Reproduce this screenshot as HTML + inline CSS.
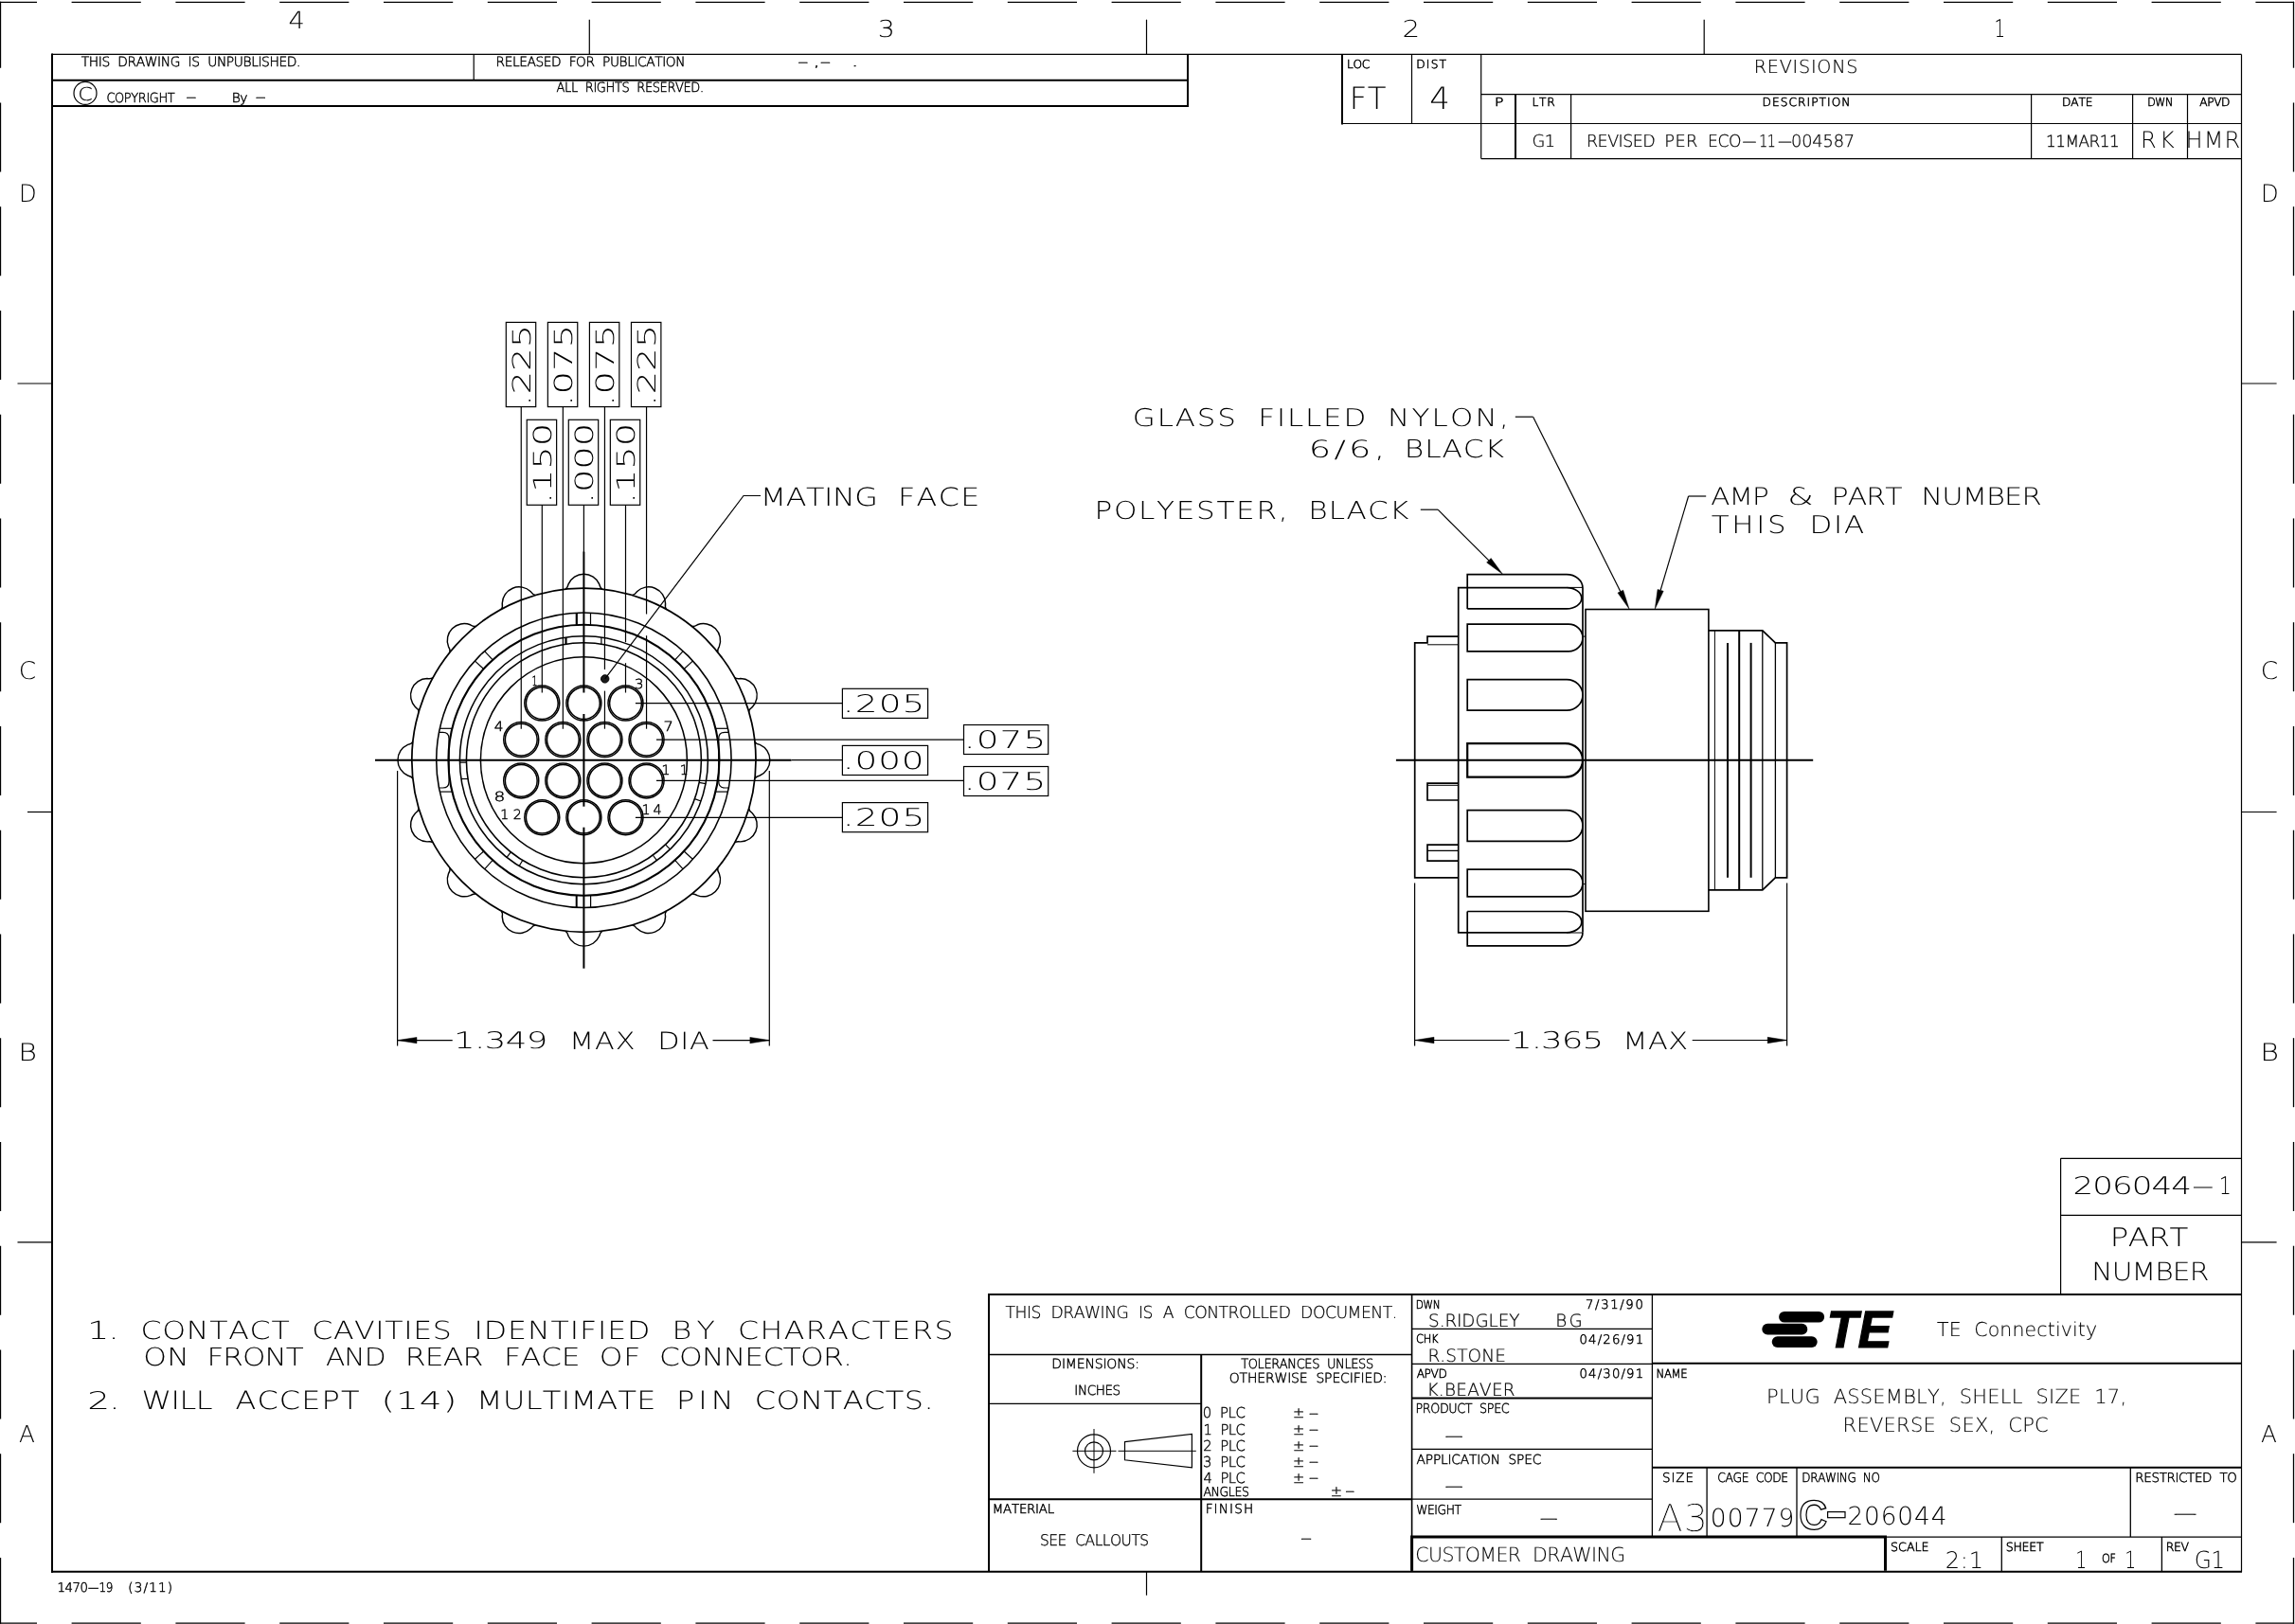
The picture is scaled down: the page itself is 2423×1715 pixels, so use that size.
<!DOCTYPE html>
<html lang="en"><head><meta charset="utf-8"><title>206044 Plug Assembly Customer Drawing</title>
<style>
html,body{margin:0;padding:0;background:#fff}
body{width:2423px;height:1715px;overflow:hidden}
svg{display:block;will-change:transform;font-family:"DejaVu Sans Light","DejaVu Sans","Liberation Sans",sans-serif;font-weight:200;font-kerning:none;text-rendering:geometricPrecision}
svg text{white-space:pre}
</style></head><body>
<svg width="2423" height="1715" viewBox="0 0 2423 1715" stroke="#000" fill="#000">
<rect x="0" y="0" width="2423" height="1715" fill="#fff" stroke="none"/>
<g stroke="#000" fill="none" stroke-linecap="butt">
<g stroke-width="1.3">
<line x1="0" y1="2.4" x2="39" y2="2.4"/>
<line x1="75.6" y1="2.4" x2="148.8" y2="2.4"/>
<line x1="185.4" y1="2.4" x2="258.6" y2="2.4"/>
<line x1="295.2" y1="2.4" x2="368.4" y2="2.4"/>
<line x1="405" y1="2.4" x2="478.2" y2="2.4"/>
<line x1="514.8" y1="2.4" x2="588" y2="2.4"/>
<line x1="624.6" y1="2.4" x2="697.8" y2="2.4"/>
<line x1="734.4" y1="2.4" x2="807.6" y2="2.4"/>
<line x1="844.2" y1="2.4" x2="917.4" y2="2.4"/>
<line x1="954" y1="2.4" x2="1027.2" y2="2.4"/>
<line x1="1063.8" y1="2.4" x2="1137" y2="2.4"/>
<line x1="1173.6" y1="2.4" x2="1246.8" y2="2.4"/>
<line x1="1283.4" y1="2.4" x2="1356.6" y2="2.4"/>
<line x1="1393.2" y1="2.4" x2="1466.4" y2="2.4"/>
<line x1="1503" y1="2.4" x2="1576.2" y2="2.4"/>
<line x1="1612.8" y1="2.4" x2="1686" y2="2.4"/>
<line x1="1722.6" y1="2.4" x2="1795.8" y2="2.4"/>
<line x1="1832.4" y1="2.4" x2="1905.6" y2="2.4"/>
<line x1="1942.2" y1="2.4" x2="2015.4" y2="2.4"/>
<line x1="2052" y1="2.4" x2="2125.2" y2="2.4"/>
<line x1="2161.8" y1="2.4" x2="2235" y2="2.4"/>
<line x1="2271.6" y1="2.4" x2="2344.8" y2="2.4"/>
<line x1="2381.4" y1="2.4" x2="2422.1" y2="2.4"/>
<line x1="0" y1="1714.2" x2="39" y2="1714.2"/>
<line x1="75.6" y1="1714.2" x2="148.8" y2="1714.2"/>
<line x1="185.4" y1="1714.2" x2="258.6" y2="1714.2"/>
<line x1="295.2" y1="1714.2" x2="368.4" y2="1714.2"/>
<line x1="405" y1="1714.2" x2="478.2" y2="1714.2"/>
<line x1="514.8" y1="1714.2" x2="588" y2="1714.2"/>
<line x1="624.6" y1="1714.2" x2="697.8" y2="1714.2"/>
<line x1="734.4" y1="1714.2" x2="807.6" y2="1714.2"/>
<line x1="844.2" y1="1714.2" x2="917.4" y2="1714.2"/>
<line x1="954" y1="1714.2" x2="1027.2" y2="1714.2"/>
<line x1="1063.8" y1="1714.2" x2="1137" y2="1714.2"/>
<line x1="1173.6" y1="1714.2" x2="1246.8" y2="1714.2"/>
<line x1="1283.4" y1="1714.2" x2="1356.6" y2="1714.2"/>
<line x1="1393.2" y1="1714.2" x2="1466.4" y2="1714.2"/>
<line x1="1503" y1="1714.2" x2="1576.2" y2="1714.2"/>
<line x1="1612.8" y1="1714.2" x2="1686" y2="1714.2"/>
<line x1="1722.6" y1="1714.2" x2="1795.8" y2="1714.2"/>
<line x1="1832.4" y1="1714.2" x2="1905.6" y2="1714.2"/>
<line x1="1942.2" y1="1714.2" x2="2015.4" y2="1714.2"/>
<line x1="2052" y1="1714.2" x2="2125.2" y2="1714.2"/>
<line x1="2161.8" y1="1714.2" x2="2235" y2="1714.2"/>
<line x1="2271.6" y1="1714.2" x2="2344.8" y2="1714.2"/>
<line x1="2381.4" y1="1714.2" x2="2422.1" y2="1714.2"/>
<line x1="0.5" y1="1.8" x2="0.5" y2="71.7"/>
<line x1="0.5" y1="108.45" x2="0.5" y2="181.45"/>
<line x1="0.5" y1="218.2" x2="0.5" y2="291.2"/>
<line x1="0.5" y1="327.95" x2="0.5" y2="400.95"/>
<line x1="0.5" y1="437.7" x2="0.5" y2="510.7"/>
<line x1="0.5" y1="547.45" x2="0.5" y2="620.45"/>
<line x1="0.5" y1="657.2" x2="0.5" y2="730.2"/>
<line x1="0.5" y1="766.95" x2="0.5" y2="839.95"/>
<line x1="0.5" y1="876.7" x2="0.5" y2="949.7"/>
<line x1="0.5" y1="986.45" x2="0.5" y2="1059.45"/>
<line x1="0.5" y1="1096.2" x2="0.5" y2="1169.2"/>
<line x1="0.5" y1="1205.95" x2="0.5" y2="1278.95"/>
<line x1="0.5" y1="1315.7" x2="0.5" y2="1388.7"/>
<line x1="0.5" y1="1425.45" x2="0.5" y2="1498.45"/>
<line x1="0.5" y1="1535.2" x2="0.5" y2="1608.2"/>
<line x1="0.5" y1="1644.95" x2="0.5" y2="1714.8"/>
<line x1="2421.5" y1="1.8" x2="2421.5" y2="71.7"/>
<line x1="2421.5" y1="108.45" x2="2421.5" y2="181.45"/>
<line x1="2421.5" y1="218.2" x2="2421.5" y2="291.2"/>
<line x1="2421.5" y1="327.95" x2="2421.5" y2="400.95"/>
<line x1="2421.5" y1="437.7" x2="2421.5" y2="510.7"/>
<line x1="2421.5" y1="547.45" x2="2421.5" y2="620.45"/>
<line x1="2421.5" y1="657.2" x2="2421.5" y2="730.2"/>
<line x1="2421.5" y1="766.95" x2="2421.5" y2="839.95"/>
<line x1="2421.5" y1="876.7" x2="2421.5" y2="949.7"/>
<line x1="2421.5" y1="986.45" x2="2421.5" y2="1059.45"/>
<line x1="2421.5" y1="1096.2" x2="2421.5" y2="1169.2"/>
<line x1="2421.5" y1="1205.95" x2="2421.5" y2="1278.95"/>
<line x1="2421.5" y1="1315.7" x2="2421.5" y2="1388.7"/>
<line x1="2421.5" y1="1425.45" x2="2421.5" y2="1498.45"/>
<line x1="2421.5" y1="1535.2" x2="2421.5" y2="1608.2"/>
<line x1="2421.5" y1="1644.95" x2="2421.5" y2="1714.8"/>
</g>
<line x1="55" y1="56.5" x2="55" y2="1660.8" stroke-width="2"/>
<line x1="54" y1="1659.8" x2="2367" y2="1659.8" stroke-width="2"/>
<line x1="55" y1="57.4" x2="2366.5" y2="57.4" stroke-width="1.2"/>
<line x1="2366.5" y1="57.4" x2="2366.5" y2="1660" stroke-width="1.2"/>
<line x1="622.3" y1="20.7" x2="622.3" y2="57.4" stroke-width="1.2"/>
<line x1="1210.5" y1="20.7" x2="1210.5" y2="57.4" stroke-width="1.2"/>
<line x1="1799.2" y1="20.7" x2="1799.2" y2="57.4" stroke-width="1.2"/>
<line x1="1210.5" y1="1660" x2="1210.5" y2="1684.7" stroke-width="1.2"/>
<line x1="18.5" y1="405" x2="55" y2="405" stroke-width="1.2"/>
<line x1="29" y1="857.5" x2="55" y2="857.5" stroke-width="1.2"/>
<line x1="18.5" y1="1311.8" x2="55" y2="1311.8" stroke-width="1.2"/>
<line x1="2366.5" y1="405" x2="2403.6" y2="405" stroke-width="1.2"/>
<line x1="2366.5" y1="857.5" x2="2403.6" y2="857.5" stroke-width="1.2"/>
<line x1="2366.5" y1="1311.8" x2="2403.6" y2="1311.8" stroke-width="1.2"/>
<line x1="55" y1="84.7" x2="1254" y2="84.7" stroke-width="2"/>
<line x1="55" y1="111.9" x2="1255" y2="111.9" stroke-width="2"/>
<line x1="1254" y1="57.4" x2="1254" y2="112.9" stroke-width="2"/>
<line x1="500.2" y1="57.4" x2="500.2" y2="84.7" stroke-width="1.2"/>
<circle cx="90" cy="98.4" r="12" stroke-width="1.2" fill="none"/>
<line x1="1417" y1="57.4" x2="1417" y2="131.5" stroke-width="2"/>
<line x1="1416" y1="130.5" x2="1563.7" y2="130.5" stroke-width="1.2"/>
<line x1="1490.5" y1="57.4" x2="1490.5" y2="130.5" stroke-width="1.2"/>
<line x1="1563.7" y1="57.4" x2="1563.7" y2="167.6" stroke-width="1.2"/>
<line x1="1563.7" y1="99.6" x2="2366.5" y2="99.6" stroke-width="1.2"/>
<line x1="1563.7" y1="130.5" x2="2366.5" y2="130.5" stroke-width="1.2"/>
<line x1="1563.7" y1="167.6" x2="2366.5" y2="167.6" stroke-width="1.2"/>
<line x1="1600" y1="99.6" x2="1600" y2="167.6" stroke-width="2"/>
<line x1="1658.6" y1="99.6" x2="1658.6" y2="167.6" stroke-width="1.2"/>
<line x1="2144.6" y1="99.6" x2="2144.6" y2="167.6" stroke-width="1.2"/>
<line x1="2251.6" y1="99.6" x2="2251.6" y2="167.6" stroke-width="1.2"/>
<line x1="2309.5" y1="99.6" x2="2309.5" y2="167.6" stroke-width="1.2"/>
<path d="M-19.5 1 Q-17.3 0 -16.3 -4.2 A17.8 17.8 0 0 1 16.3 -4.2 Q17.3 0 19.5 1" transform="rotate(0 616.4 802.7) translate(616.4 621.1)" stroke-width="1.45" fill="none"/>
<path d="M-19.5 1 Q-17.3 0 -16.3 -4.2 A17.8 17.8 0 0 1 16.3 -4.2 Q17.3 0 19.5 1" transform="rotate(22.5 616.4 802.7) translate(616.4 621.1)" stroke-width="1.45" fill="none"/>
<path d="M-19.5 1 Q-17.3 0 -16.3 -4.2 A17.8 17.8 0 0 1 16.3 -4.2 Q17.3 0 19.5 1" transform="rotate(45 616.4 802.7) translate(616.4 621.1)" stroke-width="1.45" fill="none"/>
<path d="M-19.5 1 Q-17.3 0 -16.3 -4.2 A17.8 17.8 0 0 1 16.3 -4.2 Q17.3 0 19.5 1" transform="rotate(67.5 616.4 802.7) translate(616.4 621.1)" stroke-width="1.45" fill="none"/>
<path d="M-19.5 1 Q-17.3 0 -16.3 -4.2 A17.8 17.8 0 0 1 16.3 -4.2 Q17.3 0 19.5 1" transform="rotate(90 616.4 802.7) translate(616.4 621.1)" stroke-width="1.45" fill="none"/>
<path d="M-19.5 1 Q-17.3 0 -16.3 -4.2 A17.8 17.8 0 0 1 16.3 -4.2 Q17.3 0 19.5 1" transform="rotate(112.5 616.4 802.7) translate(616.4 621.1)" stroke-width="1.45" fill="none"/>
<path d="M-19.5 1 Q-17.3 0 -16.3 -4.2 A17.8 17.8 0 0 1 16.3 -4.2 Q17.3 0 19.5 1" transform="rotate(135 616.4 802.7) translate(616.4 621.1)" stroke-width="1.45" fill="none"/>
<path d="M-19.5 1 Q-17.3 0 -16.3 -4.2 A17.8 17.8 0 0 1 16.3 -4.2 Q17.3 0 19.5 1" transform="rotate(157.5 616.4 802.7) translate(616.4 621.1)" stroke-width="1.45" fill="none"/>
<path d="M-19.5 1 Q-17.3 0 -16.3 -4.2 A17.8 17.8 0 0 1 16.3 -4.2 Q17.3 0 19.5 1" transform="rotate(180 616.4 802.7) translate(616.4 621.1)" stroke-width="1.45" fill="none"/>
<path d="M-19.5 1 Q-17.3 0 -16.3 -4.2 A17.8 17.8 0 0 1 16.3 -4.2 Q17.3 0 19.5 1" transform="rotate(202.5 616.4 802.7) translate(616.4 621.1)" stroke-width="1.45" fill="none"/>
<path d="M-19.5 1 Q-17.3 0 -16.3 -4.2 A17.8 17.8 0 0 1 16.3 -4.2 Q17.3 0 19.5 1" transform="rotate(225 616.4 802.7) translate(616.4 621.1)" stroke-width="1.45" fill="none"/>
<path d="M-19.5 1 Q-17.3 0 -16.3 -4.2 A17.8 17.8 0 0 1 16.3 -4.2 Q17.3 0 19.5 1" transform="rotate(247.5 616.4 802.7) translate(616.4 621.1)" stroke-width="1.45" fill="none"/>
<path d="M-19.5 1 Q-17.3 0 -16.3 -4.2 A17.8 17.8 0 0 1 16.3 -4.2 Q17.3 0 19.5 1" transform="rotate(270 616.4 802.7) translate(616.4 621.1)" stroke-width="1.45" fill="none"/>
<path d="M-19.5 1 Q-17.3 0 -16.3 -4.2 A17.8 17.8 0 0 1 16.3 -4.2 Q17.3 0 19.5 1" transform="rotate(292.5 616.4 802.7) translate(616.4 621.1)" stroke-width="1.45" fill="none"/>
<path d="M-19.5 1 Q-17.3 0 -16.3 -4.2 A17.8 17.8 0 0 1 16.3 -4.2 Q17.3 0 19.5 1" transform="rotate(315 616.4 802.7) translate(616.4 621.1)" stroke-width="1.45" fill="none"/>
<path d="M-19.5 1 Q-17.3 0 -16.3 -4.2 A17.8 17.8 0 0 1 16.3 -4.2 Q17.3 0 19.5 1" transform="rotate(337.5 616.4 802.7) translate(616.4 621.1)" stroke-width="1.45" fill="none"/>
<circle cx="616.4" cy="802.7" r="181.6" stroke-width="1.75" fill="none"/>
<circle cx="616.4" cy="802.7" r="155.7" stroke-width="1.55" fill="none"/>
<circle cx="616.4" cy="802.7" r="143" stroke-width="2.1" fill="none"/>
<circle cx="616.4" cy="802.7" r="131" stroke-width="1.55" fill="none"/>
<circle cx="616.4" cy="802.7" r="124" stroke-width="1.55" fill="none"/>
<circle cx="616.4" cy="802.7" r="109" stroke-width="1.55" fill="none"/>
<line x1="608.8" y1="659.9" x2="608.8" y2="647.19" stroke-width="2.2"/>
<line x1="623.5" y1="659.88" x2="623.5" y2="647.16" stroke-width="1.2"/>
<line x1="608.7" y1="945.49" x2="608.7" y2="958.21" stroke-width="2"/>
<line x1="623.6" y1="945.52" x2="623.6" y2="958.23" stroke-width="1.2"/>
<line x1="722.17" y1="706.46" x2="731.56" y2="697.91" stroke-width="1.2"/>
<line x1="712.64" y1="696.93" x2="721.19" y2="687.54" stroke-width="1.2"/>
<line x1="520.16" y1="696.93" x2="511.61" y2="687.54" stroke-width="1.2"/>
<line x1="510.63" y1="706.46" x2="501.24" y2="697.91" stroke-width="1.2"/>
<line x1="510.63" y1="898.94" x2="501.24" y2="907.49" stroke-width="1.2"/>
<line x1="520.16" y1="908.47" x2="511.61" y2="917.86" stroke-width="1.2"/>
<line x1="712.64" y1="908.47" x2="721.19" y2="917.86" stroke-width="1.2"/>
<line x1="722.17" y1="898.94" x2="731.56" y2="907.49" stroke-width="1.2"/>
<line x1="477.36" y1="769.3" x2="464.32" y2="769.3" stroke-width="1.2"/>
<line x1="477.36" y1="836.1" x2="464.32" y2="836.1" stroke-width="1.2"/>
<path d="M463.48 773.4 L467.5 773.4 Q474 773.4 474 779.9 L474 825.5 Q474 832 467.5 832 L463.48 832" stroke-width="1.2" fill="none"/>
<line x1="755.44" y1="769.3" x2="768.48" y2="769.3" stroke-width="1.2"/>
<line x1="755.44" y1="836.1" x2="768.48" y2="836.1" stroke-width="1.2"/>
<path d="M769.32 773.4 L765.3 773.4 Q758.8 773.4 758.8 779.9 L758.8 825.5 Q758.8 832 765.3 832 L769.32 832" stroke-width="1.2" fill="none"/>
<line x1="597.5" y1="680.15" x2="597.5" y2="673.07" stroke-width="2.2"/>
<line x1="634.9" y1="680.09" x2="634.9" y2="673.01" stroke-width="1.2"/>
<line x1="492.42" y1="805.1" x2="485.42" y2="805.1" stroke-width="1.3"/>
<line x1="493.99" y1="822.5" x2="486.9" y2="822.5" stroke-width="1.2"/>
<line x1="539.38" y1="899.88" x2="535.03" y2="905.36" stroke-width="1.2"/>
<line x1="551.79" y1="908.54" x2="548.15" y2="914.52" stroke-width="1.2"/>
<line x1="702.54" y1="891.9" x2="707.4" y2="896.93" stroke-width="1.2"/>
<line x1="689.29" y1="903.02" x2="693.4" y2="908.68" stroke-width="1.2"/>
<line x1="738.12" y1="826.36" x2="744.99" y2="827.7" stroke-width="1.2"/>
<line x1="733.43" y1="843.68" x2="740.04" y2="846" stroke-width="1.2"/>
<circle cx="572.3" cy="742.6" r="18.5" stroke-width="1.5" fill="none"/>
<circle cx="572.3" cy="742.6" r="16.9" stroke-width="1.5" fill="none"/>
<circle cx="616.4" cy="742.6" r="18.5" stroke-width="1.5" fill="none"/>
<circle cx="616.4" cy="742.6" r="16.9" stroke-width="1.5" fill="none"/>
<circle cx="660.5" cy="742.6" r="18.5" stroke-width="1.5" fill="none"/>
<circle cx="660.5" cy="742.6" r="16.9" stroke-width="1.5" fill="none"/>
<circle cx="550.25" cy="781.1" r="18.5" stroke-width="1.5" fill="none"/>
<circle cx="550.25" cy="781.1" r="16.9" stroke-width="1.5" fill="none"/>
<circle cx="594.35" cy="781.1" r="18.5" stroke-width="1.5" fill="none"/>
<circle cx="594.35" cy="781.1" r="16.9" stroke-width="1.5" fill="none"/>
<circle cx="638.45" cy="781.1" r="18.5" stroke-width="1.5" fill="none"/>
<circle cx="638.45" cy="781.1" r="16.9" stroke-width="1.5" fill="none"/>
<circle cx="682.55" cy="781.1" r="18.5" stroke-width="1.5" fill="none"/>
<circle cx="682.55" cy="781.1" r="16.9" stroke-width="1.5" fill="none"/>
<circle cx="550.25" cy="824.4" r="18.5" stroke-width="1.5" fill="none"/>
<circle cx="550.25" cy="824.4" r="16.9" stroke-width="1.5" fill="none"/>
<circle cx="594.35" cy="824.4" r="18.5" stroke-width="1.5" fill="none"/>
<circle cx="594.35" cy="824.4" r="16.9" stroke-width="1.5" fill="none"/>
<circle cx="638.45" cy="824.4" r="18.5" stroke-width="1.5" fill="none"/>
<circle cx="638.45" cy="824.4" r="16.9" stroke-width="1.5" fill="none"/>
<circle cx="682.55" cy="824.4" r="18.5" stroke-width="1.5" fill="none"/>
<circle cx="682.55" cy="824.4" r="16.9" stroke-width="1.5" fill="none"/>
<circle cx="572.3" cy="863.2" r="18.5" stroke-width="1.5" fill="none"/>
<circle cx="572.3" cy="863.2" r="16.9" stroke-width="1.5" fill="none"/>
<circle cx="616.4" cy="863.2" r="18.5" stroke-width="1.5" fill="none"/>
<circle cx="616.4" cy="863.2" r="16.9" stroke-width="1.5" fill="none"/>
<circle cx="660.5" cy="863.2" r="18.5" stroke-width="1.5" fill="none"/>
<circle cx="660.5" cy="863.2" r="16.9" stroke-width="1.5" fill="none"/>
<line x1="396" y1="802.7" x2="835.5" y2="802.7" stroke-width="2"/>
<line x1="835.5" y1="802.7" x2="889.3" y2="802.7" stroke-width="1.2"/>
<line x1="616.4" y1="582.6" x2="616.4" y2="731.5" stroke-width="2"/>
<line x1="616.4" y1="754" x2="616.4" y2="851.7" stroke-width="2"/>
<line x1="616.4" y1="873.7" x2="616.4" y2="1022.7" stroke-width="2"/>
<line x1="550.25" y1="429.6" x2="550.25" y2="769.7" stroke-width="1.2"/>
<line x1="572.3" y1="533.3" x2="572.3" y2="731.5" stroke-width="1.2"/>
<line x1="594.35" y1="429.6" x2="594.35" y2="769.7" stroke-width="1.2"/>
<line x1="616.4" y1="533.3" x2="616.4" y2="583" stroke-width="1.2"/>
<line x1="638.45" y1="429.6" x2="638.45" y2="707" stroke-width="1.2"/>
<line x1="638.45" y1="729.6" x2="638.45" y2="769.7" stroke-width="1.2"/>
<line x1="660.5" y1="533.3" x2="660.5" y2="678.2" stroke-width="1.2"/>
<line x1="660.5" y1="700.2" x2="660.5" y2="731.5" stroke-width="1.2"/>
<line x1="682.55" y1="429.6" x2="682.55" y2="648.5" stroke-width="1.2"/>
<line x1="682.55" y1="671.2" x2="682.55" y2="769.7" stroke-width="1.2"/>
<rect x="534.3" y="340.4" width="31.4" height="89.2" stroke-width="1.2" fill="none"/>
<rect x="578.36" y="340.4" width="31.4" height="89.2" stroke-width="1.2" fill="none"/>
<rect x="622.42" y="340.4" width="31.4" height="89.2" stroke-width="1.2" fill="none"/>
<rect x="666.48" y="340.4" width="31.4" height="89.2" stroke-width="1.2" fill="none"/>
<rect x="556.23" y="443.3" width="31.4" height="90" stroke-width="1.2" fill="none"/>
<rect x="600.29" y="443.3" width="31.4" height="90" stroke-width="1.2" fill="none"/>
<rect x="644.35" y="443.3" width="31.4" height="90" stroke-width="1.2" fill="none"/>
<line x1="670.9" y1="742.6" x2="889.3" y2="742.6" stroke-width="1.2"/>
<line x1="693" y1="781.1" x2="1017.3" y2="781.1" stroke-width="1.2"/>
<line x1="693" y1="824.4" x2="1017.3" y2="824.4" stroke-width="1.2"/>
<line x1="670.9" y1="863.3" x2="889.3" y2="863.3" stroke-width="1.2"/>
<rect x="889.4" y="727.3" width="90.2" height="31.1" stroke-width="1.2" fill="none"/>
<rect x="889.4" y="787.4" width="90.2" height="31.1" stroke-width="1.2" fill="none"/>
<rect x="889.4" y="847.6" width="90.2" height="31.1" stroke-width="1.2" fill="none"/>
<rect x="1017.5" y="765.5" width="89.2" height="31" stroke-width="1.2" fill="none"/>
<rect x="1017.5" y="809.5" width="89.2" height="31" stroke-width="1.2" fill="none"/>
<circle cx="638.7" cy="716.9" r="4.2" stroke-width="1" fill="#1a1a1a"/>
<path d="M638.7 716.9 L785 523.5 H803" stroke-width="1.2" fill="none"/>
<line x1="419.6" y1="814" x2="419.6" y2="1104.6" stroke-width="1.2"/>
<line x1="812.3" y1="814" x2="812.3" y2="1104.6" stroke-width="1.2"/>
<line x1="419.6" y1="1098.6" x2="477.7" y2="1098.6" stroke-width="1.2"/>
<line x1="752.5" y1="1098.6" x2="812.3" y2="1098.6" stroke-width="1.2"/>
<path d="M419.6 1098.6 L440 1095.4 V1101.8Z" stroke-width="0.5" fill="#000"/>
<path d="M812.3 1098.6 L791.9 1095.4 V1101.8Z" stroke-width="0.5" fill="#000"/>
<line x1="1473.9" y1="802.7" x2="1914.2" y2="802.7" stroke-width="2"/>
<path d="M1539.7 926.8 H1493.7 V678.9 H1507 V672.1 H1539.7" stroke-width="1.7" fill="none"/>
<line x1="1507" y1="680.8" x2="1539.7" y2="680.8" stroke-width="1"/>
<path d="M1539.7 827.1 H1507 V845 H1539.7" stroke-width="1.7" fill="none"/>
<line x1="1507" y1="829.3" x2="1539.7" y2="829.3" stroke-width="1"/>
<path d="M1539.7 892.2 H1507 V909.2 H1539.7" stroke-width="1.7" fill="none"/>
<line x1="1507" y1="898.4" x2="1539.7" y2="898.4" stroke-width="1.4"/>
<path d="M1549.2 620.6 H1539.7 V984.8 H1549.2" stroke-width="1.7" fill="none"/>
<line x1="1671" y1="621" x2="1671" y2="984.4" stroke-width="1.7"/>
<path d="M1549.2 659.1 H1656.05 A14.95 14.35 0 0 1 1656.05 687.8 H1549.2 Z" stroke-width="1.7" fill="none"/>
<path d="M1549.2 717.7 H1654.15 A16.85 16.25 0 0 1 1654.15 750.2 H1549.2 Z" stroke-width="1.7" fill="none"/>
<path d="M1549.2 785.1 H1652.65 A18.35 17.75 0 0 1 1652.65 820.6 H1549.2 Z" stroke-width="2.2" fill="none"/>
<path d="M1549.2 855.6 H1654 A17 16.4 0 0 1 1654 888.4 H1549.2 Z" stroke-width="1.7" fill="none"/>
<path d="M1549.2 918.2 H1656.05 A14.95 14.35 0 0 1 1656.05 946.9 H1549.2 Z" stroke-width="1.7" fill="none"/>
<path d="M1549.2 642.9 V606.6 H1654 A17 14.4 0 0 1 1671 621" stroke-width="1.7" fill="none"/>
<path d="M1549.2 620.6 H1654 A15.8 11.15 0 0 1 1654 642.9 H1549.2" stroke-width="1.7" fill="none"/>
<line x1="1654" y1="620.4" x2="1671" y2="620.4" stroke-width="1"/>
<path d="M1549.2 962.5 V998.8 H1654 A17 14.4 0 0 0 1671 984.4" stroke-width="1.7" fill="none"/>
<path d="M1549.2 984.8 H1654 A15.8 11.15 0 0 0 1654 962.5 H1549.2" stroke-width="1.7" fill="none"/>
<line x1="1654" y1="985" x2="1671" y2="985" stroke-width="1"/>
<rect x="1674" y="643.5" width="129.9" height="318.8" stroke-width="1.6" fill="none"/>
<line x1="1671" y1="672.1" x2="1674" y2="672.1" stroke-width="1"/>
<line x1="1671" y1="933.6" x2="1674" y2="933.6" stroke-width="1"/>
<path d="M1803.9 665.9 H1860.8 L1874.4 678.9 H1886.6 V926.8 H1874.4 L1860.8 939.9 H1803.9" stroke-width="1.7" fill="none"/>
<line x1="1810.4" y1="665.9" x2="1810.4" y2="939.9" stroke-width="1"/>
<line x1="1836.2" y1="665.9" x2="1836.2" y2="939.9" stroke-width="2"/>
<line x1="1860.8" y1="665.9" x2="1860.8" y2="939.9" stroke-width="1.3"/>
<line x1="1874.4" y1="678.9" x2="1874.4" y2="926.8" stroke-width="1.3"/>
<line x1="1824" y1="678.9" x2="1824" y2="926.8" stroke-width="2"/>
<line x1="1848.6" y1="678.9" x2="1848.6" y2="926.8" stroke-width="2"/>
<line x1="1493.6" y1="932.4" x2="1493.6" y2="1104.6" stroke-width="1.2"/>
<line x1="1886.6" y1="932.4" x2="1886.6" y2="1104.6" stroke-width="1.2"/>
<line x1="1493.6" y1="1098.5" x2="1593.6" y2="1098.5" stroke-width="1.2"/>
<line x1="1786.7" y1="1098.5" x2="1886.6" y2="1098.5" stroke-width="1.2"/>
<path d="M1493.6 1098.5 L1514 1095.3 V1101.7Z" stroke-width="0.5" fill="#000"/>
<path d="M1886.6 1098.5 L1866.2 1095.3 V1101.7Z" stroke-width="0.5" fill="#000"/>
<line x1="1599.8" y1="440.2" x2="1618.6" y2="440.2" stroke-width="1.2"/>
<line x1="1618.6" y1="440.2" x2="1710.83" y2="624.66" stroke-width="1.2"/>
<path d="M1720 643 L1707.97 626.1 L1713.69 623.23 Z" stroke-width="0.5" fill="#000"/>
<line x1="1499.8" y1="538.2" x2="1518.1" y2="538.2" stroke-width="1.2"/>
<line x1="1518.1" y1="538.2" x2="1571.88" y2="591.83" stroke-width="1.2"/>
<path d="M1586.4 606.3 L1569.62 594.09 L1574.14 589.56 Z" stroke-width="0.5" fill="#000"/>
<line x1="1782.6" y1="524" x2="1801.2" y2="524" stroke-width="1.2"/>
<line x1="1782.6" y1="524" x2="1753.13" y2="623.35" stroke-width="1.2"/>
<path d="M1747.3 643 L1750.06 622.44 L1756.2 624.26 Z" stroke-width="0.5" fill="#000"/>
<line x1="2175.6" y1="1223.3" x2="2366.5" y2="1223.3" stroke-width="1.2"/>
<line x1="2175.6" y1="1223.3" x2="2175.6" y2="1367" stroke-width="1.2"/>
<line x1="2175.6" y1="1283.4" x2="2366.5" y2="1283.4" stroke-width="1.2"/>
<line x1="1043" y1="1367" x2="2366.5" y2="1367" stroke-width="2"/>
<line x1="1044" y1="1367" x2="1044" y2="1659.8" stroke-width="2"/>
<line x1="1044" y1="1430.5" x2="1490.6" y2="1430.5" stroke-width="1.3"/>
<line x1="1268.2" y1="1430.5" x2="1268.2" y2="1659.8" stroke-width="2"/>
<line x1="1490.6" y1="1367" x2="1490.6" y2="1659.8" stroke-width="1.6"/>
<line x1="1044" y1="1482.3" x2="1268.2" y2="1482.3" stroke-width="1.3"/>
<line x1="1044" y1="1583.2" x2="1490.6" y2="1583.2" stroke-width="2"/>
<line x1="1490.6" y1="1403.4" x2="1744.4" y2="1403.4" stroke-width="1.3"/>
<line x1="1490.6" y1="1440.3" x2="1744.4" y2="1440.3" stroke-width="1.3"/>
<line x1="1490.6" y1="1476.6" x2="1744.4" y2="1476.6" stroke-width="2"/>
<line x1="1490.6" y1="1530.4" x2="1744.4" y2="1530.4" stroke-width="1.3"/>
<line x1="1490.6" y1="1583.2" x2="1744.4" y2="1583.2" stroke-width="1.3"/>
<line x1="1744.4" y1="1367" x2="1744.4" y2="1623.1" stroke-width="1.3"/>
<line x1="1744.4" y1="1439.8" x2="2366.5" y2="1439.8" stroke-width="2"/>
<line x1="1744.4" y1="1549.7" x2="2366.5" y2="1549.7" stroke-width="2"/>
<line x1="1744.4" y1="1623.1" x2="2366.5" y2="1623.1" stroke-width="1.3"/>
<line x1="1802.1" y1="1549.7" x2="1802.1" y2="1623.1" stroke-width="1.3"/>
<line x1="1897" y1="1549.7" x2="1897" y2="1623.1" stroke-width="1.3"/>
<line x1="2249.3" y1="1549.7" x2="2249.3" y2="1623.1" stroke-width="1.3"/>
<line x1="2113.3" y1="1623.1" x2="2113.3" y2="1659.8" stroke-width="1.3"/>
<line x1="2282.4" y1="1623.1" x2="2282.4" y2="1659.8" stroke-width="1.3"/>
<path d="M1490.6 1658.8 V1622.9 H1990.5 V1658.8" stroke-width="3" fill="none"/>
<text x="1899.2" y="1615" font-family="Liberation Sans, sans-serif" font-weight="bold" font-size="44" fill="#fff" stroke="#000" stroke-width="1.3" textLength="30" lengthAdjust="spacingAndGlyphs">C</text>
<rect x="1929.6" y="1596.6" width="18.4" height="6.1" stroke-width="1.2" fill="#fff"/>
<circle cx="1155" cy="1532.3" r="17.5" stroke-width="1.2" fill="none"/>
<circle cx="1155" cy="1532.3" r="9.5" stroke-width="1.2" fill="none"/>
<line x1="1132.4" y1="1532.3" x2="1178.5" y2="1532.3" stroke-width="1"/>
<line x1="1155" y1="1509" x2="1155" y2="1555.8" stroke-width="1"/>
<path d="M1187.5 1522.7 L1258.4 1514.4 V1549.8 L1187.5 1541.8Z" stroke-width="1.2" fill="none"/>
<line x1="1180.5" y1="1532.3" x2="1262.8" y2="1532.3" stroke-width="1"/>
<rect x="1878.1" y="1384.9" width="48" height="11.7" rx="5.85" fill="#000" stroke="none"/>
<rect x="1860.3" y="1397.8" width="48" height="11.7" rx="5.85" fill="#000" stroke="none"/>
<rect x="1870.7" y="1411.2" width="48" height="11.7" rx="5.85" fill="#000" stroke="none"/>
<text x="1928.5" y="1423" font-family="Liberation Sans, sans-serif" font-weight="bold" font-style="italic" fill="#000" font-size="55.3" textLength="69" lengthAdjust="spacingAndGlyphs" stroke="#000" stroke-width="1.2">TE</text>
</g>
<g fill="#000" stroke="none">
<text font-size="25.1" transform="translate(304.57 29.9) scale(1.084 1)">4</text>
<text font-size="24.7" transform="translate(926.82 39.04) scale(1.156 1)">3</text>
<text font-size="24.7" transform="translate(1480.57 39.04) scale(1.188 1)">2</text>
<text font-size="25.65" transform="translate(2105.49 39.4) scale(0.714 1)">1</text>
<text font-size="25.38" transform="translate(19.95 212.9) scale(0.956 1)">D</text>
<text font-size="25.38" transform="translate(2386.95 212.9) scale(0.956 1)">D</text>
<text font-size="25.51" transform="translate(19.81 717.3) scale(1.034 1)">C</text>
<text font-size="25.51" transform="translate(2386.81 717.3) scale(1.034 1)">C</text>
<text font-size="25.51" transform="translate(19.19 1119.9) scale(1.183 1)">B</text>
<text font-size="25.51" transform="translate(2386.19 1119.9) scale(1.183 1)">B</text>
<text font-size="24.69" transform="translate(19.97 1522.6)">A</text>
<text font-size="24.69" transform="translate(2386.97 1522.6)">A</text>
<text font-size="13.99" letter-spacing="-0.42" word-spacing="4.62" stroke="#000" stroke-width="0.44" transform="translate(85.7 70.2) scale(0.990 1)">THIS DRAWING IS UNPUBLISHED.</text>
<text font-size="13.99" letter-spacing="-0.42" word-spacing="4.62" stroke="#000" stroke-width="0.44" transform="translate(523.61 70.2) scale(0.981 1)">RELEASED FOR PUBLICATION</text>
<text font-size="14" stroke="#000" stroke-width="0.44" transform="translate(841.92 70.34) scale(2.307 1)">-</text>
<text font-size="14" stroke="#000" stroke-width="0.44" transform="translate(865.4 70.34) scale(2.334 1)">-</text>
<text font-size="13.99" stroke="#000" stroke-width="0.44" transform="translate(858.88 70.2) scale(1.453 1)">,</text>
<text font-size="13.99" stroke="#000" stroke-width="0.44" transform="translate(898.78 70.2) scale(1.722 1)">.</text>
<text font-size="13.99" letter-spacing="-0.42" word-spacing="4.62" stroke="#000" stroke-width="0.44" transform="translate(587.61 97.4) scale(0.928 1)">ALL RIGHTS RESERVED.</text>
<text font-size="19.2" stroke="#000" stroke-width="0.17" transform="translate(82.15 105.6) scale(1.160 1)">C</text>
<text font-size="13.85" letter-spacing="-0.42" stroke="#000" stroke-width="0.45" transform="translate(112.42 108.3) scale(0.935 1)">COPYRIGHT</text>
<text font-size="14" stroke="#000" stroke-width="0.44" transform="translate(196 107.24) scale(2.334 1)">-</text>
<text font-size="13.85" letter-spacing="-0.42" stroke="#000" stroke-width="0.45" transform="translate(244.7 108.3)">By</text>
<text font-size="14" stroke="#000" stroke-width="0.44" transform="translate(269.2 107.24) scale(2.334 1)">-</text>
<text font-size="12.21" letter-spacing="-0.29" stroke="#000" stroke-width="0.53" transform="translate(1422.01 72.4)">LOC</text>
<text font-size="12.21" letter-spacing="1.21" stroke="#000" stroke-width="0.53" transform="translate(1495.22 72.4)">DIST</text>
<text font-size="32.24" letter-spacing="0.31" transform="translate(1424.86 115)">FT</text>
<text font-size="32.24" transform="translate(1509.14 115) scale(1.052 1)">4</text>
<text font-size="19.2" letter-spacing="0.77" stroke="#000" stroke-width="0.17" transform="translate(1851.64 77)">REVISIONS</text>
<text font-size="12.21" stroke="#000" stroke-width="0.53" transform="translate(1578.11 112.2) scale(1.269 1)">P</text>
<text font-size="12.21" letter-spacing="0.7" stroke="#000" stroke-width="0.53" transform="translate(1617.51 112.2)">LTR</text>
<text font-size="12.21" letter-spacing="1.03" stroke="#000" stroke-width="0.53" transform="translate(1860.52 112.2)">DESCRIPTION</text>
<text font-size="12.21" letter-spacing="-0.12" stroke="#000" stroke-width="0.53" transform="translate(2177.02 112.2)">DATE</text>
<text font-size="12.21" letter-spacing="-0.37" stroke="#000" stroke-width="0.53" transform="translate(2267.16 112.2) scale(0.905 1)">DWN</text>
<text font-size="12.21" letter-spacing="-0.36" stroke="#000" stroke-width="0.53" transform="translate(2322.14 112.2)">APVD</text>
<text font-size="17.83" letter-spacing="-0.53" stroke="#000" stroke-width="0.24" transform="translate(1617.52 155)">G1</text>
<text font-size="17.83" letter-spacing="-0.53" stroke="#000" stroke-width="0.24" transform="translate(1674.94 155) scale(0.982 1)">REVISED</text>
<text font-size="17.83" letter-spacing="0.31" stroke="#000" stroke-width="0.24" transform="translate(1757.32 155)">PER</text>
<text font-size="17.83" letter-spacing="-0.53" stroke="#000" stroke-width="0.24" transform="translate(1803.11 155) scale(0.965 1)">ECO</text>
<text font-size="17.8" stroke="#000" stroke-width="0.25" transform="translate(1838.07 155) scale(2.796 1)">-</text>
<text font-size="17.8" letter-spacing="-0.53" stroke="#000" stroke-width="0.25" transform="translate(1857.24 155) scale(0.796 1)">11</text>
<text font-size="17.8" stroke="#000" stroke-width="0.25" transform="translate(1875.47 155) scale(2.796 1)">-</text>
<text font-size="17.8" letter-spacing="-0.14" stroke="#000" stroke-width="0.25" transform="translate(1891.01 155)">004587</text>
<text font-size="17.01" letter-spacing="-0.51" stroke="#000" stroke-width="0.29" transform="translate(2160.05 154.8) scale(0.992 1)">11MAR11</text>
<text font-size="24.01" letter-spacing="3.31" transform="translate(2260.05 156)">RK</text>
<text font-size="24.01" letter-spacing="1.13" transform="translate(2307.58 156)">HMR</text>
<text font-size="26.42" letter-spacing="0.13" transform="translate(560.2 423.9) rotate(-90) translate(-5.16 -0.39) scale(1.460 1)">.225</text>
<text font-size="26.42" letter-spacing="0.13" transform="translate(604.26 423.9) rotate(-90) translate(-5.16 -0.39) scale(1.460 1)">.075</text>
<text font-size="26.42" letter-spacing="0.13" transform="translate(648.32 423.9) rotate(-90) translate(-5.16 -0.39) scale(1.460 1)">.075</text>
<text font-size="26.42" letter-spacing="0.13" transform="translate(692.38 423.9) rotate(-90) translate(-5.16 -0.39) scale(1.460 1)">.225</text>
<text font-size="26.42" letter-spacing="-0.12" transform="translate(582.23 526.9) rotate(-90) translate(-5.16 -0.39) scale(1.460 1)">.150</text>
<text font-size="26.42" letter-spacing="-0.12" transform="translate(626.29 526.9) rotate(-90) translate(-5.16 -0.39) scale(1.460 1)">.000</text>
<text font-size="26.42" letter-spacing="-0.12" transform="translate(670.35 526.9) rotate(-90) translate(-5.16 -0.39) scale(1.460 1)">.150</text>
<text font-size="25.63" letter-spacing="0.74" transform="translate(889.79 752.23) scale(1.460 1)">.205</text>
<text font-size="25.63" letter-spacing="0.59" transform="translate(889.79 812.23) scale(1.460 1)">.000</text>
<text font-size="25.76" letter-spacing="0.66" transform="translate(889.77 872.32) scale(1.460 1)">.205</text>
<text font-size="25.63" letter-spacing="0.74" transform="translate(1017.69 790.23) scale(1.460 1)">.075</text>
<text font-size="25.63" letter-spacing="0.74" transform="translate(1017.69 834.23) scale(1.460 1)">.075</text>
<text font-size="26.47" letter-spacing="-0.35" transform="translate(802.8 533.7) scale(1.200 1)">MATING</text>
<text font-size="26.47" letter-spacing="1.18" transform="translate(947.92 533.7) scale(1.200 1)">FACE</text>
<text font-size="13.99" stroke="#000" stroke-width="0.44" transform="translate(561.48 723.8) scale(0.663 1)">1</text>
<text font-size="13.74" stroke="#000" stroke-width="0.45" transform="translate(670.06 727.2) scale(1.088 1)">3</text>
<text font-size="13.99" stroke="#000" stroke-width="0.44" transform="translate(521.75 771.8) scale(1.099 1)">4</text>
<text font-size="13.99" stroke="#000" stroke-width="0.44" transform="translate(700.47 771.8) scale(1.161 1)">7</text>
<text font-size="14.27" letter-spacing="0.52" word-spacing="4.71" stroke="#000" stroke-width="0.43" transform="translate(698.43 818)">1 1</text>
<text font-size="13.74" stroke="#000" stroke-width="0.45" transform="translate(521.55 846.2) scale(1.351 1)">8</text>
<text font-size="14.13" letter-spacing="4.48" stroke="#000" stroke-width="0.43" transform="translate(528.25 865.29)">12</text>
<text font-size="14.4" letter-spacing="2.91" stroke="#000" stroke-width="0.42" transform="translate(677.42 860)">14</text>
<text font-size="24.31" letter-spacing="-0.38" transform="translate(479.1 1107.45) scale(1.460 1)">1.349</text>
<text font-size="25.24" letter-spacing="0.78" transform="translate(600.93 1107.8) scale(1.200 1)">MAX</text>
<text font-size="25.24" letter-spacing="0.59" transform="translate(694.22 1107.8) scale(1.200 1)">DIA</text>
<text font-size="24.44" letter-spacing="-0.69" transform="translate(1595.08 1107.44) scale(1.460 1)">1.365</text>
<text font-size="25.38" letter-spacing="0.31" transform="translate(1713.31 1107.8) scale(1.200 1)">MAX</text>
<text font-size="25.79" letter-spacing="1.53" transform="translate(1195.82 450.2) scale(1.200 1)">GLASS</text>
<text font-size="25.79" letter-spacing="1.56" transform="translate(1328.22 450.2) scale(1.200 1)">FILLED</text>
<text font-size="25.79" letter-spacing="1.85" transform="translate(1465.05 450.2) scale(1.200 1)">NYLON,</text>
<text font-size="25.2" letter-spacing="2.24" transform="translate(1381.72 482.8) scale(1.460 1)">6/6,</text>
<text font-size="26.06" letter-spacing="0.76" transform="translate(1482.85 482.8) scale(1.200 1)">BLACK</text>
<text font-size="25.93" letter-spacing="1.38" transform="translate(1155.5 547.8) scale(1.200 1)">POLYESTER,</text>
<text font-size="25.93" letter-spacing="1.06" transform="translate(1381.17 547.8) scale(1.200 1)">BLACK</text>
<text font-size="25.51" letter-spacing="-0.77" transform="translate(1806.22 533.4) scale(1.155 1)">AMP</text>
<text font-size="25.51" transform="translate(1887.27 533.4) scale(1.383 1)">&amp;</text>
<text font-size="25.51" letter-spacing="-0.77" transform="translate(1933.54 533.4) scale(1.176 1)">PART</text>
<text font-size="25.51" letter-spacing="-0.77" transform="translate(2028.3 533.4) scale(1.197 1)">NUMBER</text>
<text font-size="25.79" letter-spacing="2.16" transform="translate(1806.82 563.3) scale(1.200 1)">THIS</text>
<text font-size="25.79" letter-spacing="1.44" transform="translate(1910.54 563.3) scale(1.200 1)">DIA</text>
<text font-size="26.34" letter-spacing="-0.79" transform="translate(91.96 1413.6) scale(1.396 1)">1.</text>
<text font-size="26.34" letter-spacing="0.62" transform="translate(148.38 1413.6) scale(1.200 1)">CONTACT</text>
<text font-size="26.34" letter-spacing="0.53" transform="translate(329.18 1413.6) scale(1.200 1)">CAVITIES</text>
<text font-size="26.34" letter-spacing="0.76" transform="translate(500.57 1413.6) scale(1.200 1)">IDENTIFIED</text>
<text font-size="26.34" letter-spacing="4.27" transform="translate(709.61 1413.6) scale(1.200 1)">BY</text>
<text font-size="26.34" letter-spacing="1.22" transform="translate(778.98 1413.6) scale(1.200 1)">CHARACTERS</text>
<text font-size="26.2" letter-spacing="0.32" transform="translate(151.14 1442) scale(1.200 1)">ON</text>
<text font-size="26.2" letter-spacing="-0.79" transform="translate(218.4 1442) scale(1.187 1)">FRONT</text>
<text font-size="26.2" letter-spacing="-0.79" transform="translate(343.91 1442) scale(1.136 1)">AND</text>
<text font-size="26.2" letter-spacing="-0.67" transform="translate(427.73 1442) scale(1.200 1)">REAR</text>
<text font-size="26.2" letter-spacing="-0.21" transform="translate(531.96 1442) scale(1.200 1)">FACE</text>
<text font-size="26.2" letter-spacing="0.55" transform="translate(632.74 1442) scale(1.200 1)">OF</text>
<text font-size="26.2" letter-spacing="-0.67" transform="translate(695.89 1442) scale(1.200 1)">CONNECTOR.</text>
<text font-size="25.63" letter-spacing="-0.74" transform="translate(92.21 1487.53) scale(1.460 1)">2.</text>
<text font-size="26.61" letter-spacing="-0.41" transform="translate(149.49 1487.9) scale(1.200 1)">WILL</text>
<text font-size="26.61" letter-spacing="0.95" transform="translate(248.45 1487.9) scale(1.200 1)">ACCEPT</text>
<text font-size="25.6" letter-spacing="0.71" transform="translate(402.41 1487.9) scale(1.460 1)">(14)</text>
<text font-size="26.61" letter-spacing="0.28" transform="translate(503.07 1487.9) scale(1.200 1)">MULTIMATE</text>
<text font-size="26.61" letter-spacing="3.29" transform="translate(714.1 1487.9) scale(1.200 1)">PIN</text>
<text font-size="26.61" letter-spacing="0.43" transform="translate(796.75 1487.9) scale(1.200 1)">CONTACTS.</text>
<text font-size="13.47" letter-spacing="-0.4" stroke="#000" stroke-width="0.47" transform="translate(60.44 1681.2) scale(0.985 1)">1470</text>
<text font-size="13.5" stroke="#000" stroke-width="0.46" transform="translate(92.12 1681.4) scale(2.702 1)">-</text>
<text font-size="13.47" letter-spacing="-0.4" stroke="#000" stroke-width="0.47" transform="translate(104.39 1681.2) scale(0.887 1)">19</text>
<text font-size="13.5" letter-spacing="1.2" stroke="#000" stroke-width="0.46" transform="translate(135.22 1681.4)">(3/11)</text>
<text font-size="25.63" letter-spacing="-0.71" transform="translate(2188.44 1260.53) scale(1.330 1)">206044</text>
<text font-size="25.6" transform="translate(2312.33 1260.9) scale(2.939 1)">-</text>
<text font-size="25.6" transform="translate(2342.65 1260.9) scale(0.801 1)">1</text>
<text font-size="27.02" letter-spacing="-0.36" transform="translate(2227.64 1315.8) scale(1.200 1)">PART</text>
<text font-size="26.47" letter-spacing="-0.79" transform="translate(2208.3 1352.4) scale(1.123 1)">NUMBER</text>
<text font-size="17.83" letter-spacing="-0.53" word-spacing="5.88" stroke="#000" stroke-width="0.24" transform="translate(1061.42 1392.1) scale(0.967 1)">THIS DRAWING IS A CONTROLLED DOCUMENT.</text>
<text font-size="13.99" letter-spacing="-0.17" stroke="#000" stroke-width="0.44" transform="translate(1110.3 1445.4)">DIMENSIONS:</text>
<text font-size="13.99" letter-spacing="-0.42" stroke="#000" stroke-width="0.44" transform="translate(1134.37 1473.4) scale(0.965 1)">INCHES</text>
<text font-size="13.99" letter-spacing="-0.42" word-spacing="4.62" stroke="#000" stroke-width="0.44" transform="translate(1310.21 1445.4) scale(0.928 1)">TOLERANCES UNLESS</text>
<text font-size="13.99" letter-spacing="-0.16" word-spacing="4.62" stroke="#000" stroke-width="0.44" transform="translate(1297.66 1459.8)">OTHERWISE SPECIFIED:</text>
<text font-size="15.09" letter-spacing="-0.45" word-spacing="4.98" stroke="#000" stroke-width="0.38" transform="translate(1269.87 1497.3) scale(0.985 1)">0 PLC</text>
<text font-size="15.1" stroke="#000" stroke-width="0.38" transform="translate(1365.06 1497.3) scale(0.971 1)">±</text>
<text font-size="14" stroke="#000" stroke-width="0.44" transform="translate(1381.52 1496.54) scale(2.171 1)">-</text>
<text font-size="15.09" letter-spacing="-0.45" word-spacing="4.98" stroke="#000" stroke-width="0.38" transform="translate(1270.39 1514.5) scale(0.974 1)">1 PLC</text>
<text font-size="15.1" stroke="#000" stroke-width="0.38" transform="translate(1365.06 1514.5) scale(0.971 1)">±</text>
<text font-size="14" stroke="#000" stroke-width="0.44" transform="translate(1381.52 1513.74) scale(2.171 1)">-</text>
<text font-size="15.09" letter-spacing="-0.45" word-spacing="4.98" stroke="#000" stroke-width="0.38" transform="translate(1270.18 1531.7) scale(0.978 1)">2 PLC</text>
<text font-size="15.1" stroke="#000" stroke-width="0.38" transform="translate(1365.06 1531.7) scale(0.971 1)">±</text>
<text font-size="14" stroke="#000" stroke-width="0.44" transform="translate(1381.52 1530.94) scale(2.171 1)">-</text>
<text font-size="15.09" letter-spacing="-0.45" word-spacing="4.98" stroke="#000" stroke-width="0.38" transform="translate(1270.07 1548.9) scale(0.981 1)">3 PLC</text>
<text font-size="15.1" stroke="#000" stroke-width="0.38" transform="translate(1365.06 1548.9) scale(0.971 1)">±</text>
<text font-size="14" stroke="#000" stroke-width="0.44" transform="translate(1381.52 1548.14) scale(2.171 1)">-</text>
<text font-size="15.09" letter-spacing="-0.45" word-spacing="4.98" stroke="#000" stroke-width="0.38" transform="translate(1270.48 1566.1) scale(0.972 1)">4 PLC</text>
<text font-size="15.1" stroke="#000" stroke-width="0.38" transform="translate(1365.06 1566.1) scale(0.971 1)">±</text>
<text font-size="14" stroke="#000" stroke-width="0.44" transform="translate(1381.52 1565.34) scale(2.171 1)">-</text>
<text font-size="13.44" letter-spacing="-0.4" stroke="#000" stroke-width="0.47" transform="translate(1270.43 1579.9) scale(0.929 1)">ANGLES</text>
<text font-size="15.1" stroke="#000" stroke-width="0.38" transform="translate(1404.66 1580) scale(0.971 1)">±</text>
<text font-size="14" stroke="#000" stroke-width="0.44" transform="translate(1420.07 1579.34) scale(2.090 1)">-</text>
<text font-size="13.31" letter-spacing="-0.22" stroke="#000" stroke-width="0.47" transform="translate(1047.86 1598.3)">MATERIAL</text>
<text font-size="16.05" letter-spacing="-0.48" word-spacing="5.3" stroke="#000" stroke-width="0.33" transform="translate(1097.93 1631.5) scale(0.961 1)">SEE CALLOUTS</text>
<text font-size="13.58" letter-spacing="1.13" stroke="#000" stroke-width="0.46" transform="translate(1272.64 1598.3)">FINISH</text>
<text font-size="14" stroke="#000" stroke-width="0.44" transform="translate(1372.79 1628.64) scale(2.497 1)">-</text>
<text font-size="12.35" letter-spacing="-0.37" stroke="#000" stroke-width="0.52" transform="translate(1494.72 1381.9) scale(0.854 1)">DWN</text>
<text font-size="13.21" letter-spacing="1.65" stroke="#000" stroke-width="0.48" transform="translate(1674.02 1382.41)">7/31/90</text>
<text font-size="18.38" letter-spacing="-0.09" stroke="#000" stroke-width="0.22" transform="translate(1508.07 1401)">S.RIDGLEY</text>
<text font-size="18.38" letter-spacing="2.04" stroke="#000" stroke-width="0.22" transform="translate(1642.34 1401)">BG</text>
<text font-size="12.35" letter-spacing="-0.37" stroke="#000" stroke-width="0.52" transform="translate(1495.05 1418.2) scale(0.926 1)">CHK</text>
<text font-size="13.21" letter-spacing="1.18" stroke="#000" stroke-width="0.48" transform="translate(1667.52 1419.01)">04/26/91</text>
<text font-size="18.52" letter-spacing="0.08" stroke="#000" stroke-width="0.21" transform="translate(1507.42 1437.5)">R.STONE</text>
<text font-size="12.62" letter-spacing="-0.38" stroke="#000" stroke-width="0.51" transform="translate(1495.64 1454.8) scale(0.965 1)">APVD</text>
<text font-size="13.21" letter-spacing="1.18" stroke="#000" stroke-width="0.48" transform="translate(1667.52 1455.41)">04/30/91</text>
<text font-size="18.38" letter-spacing="0.3" stroke="#000" stroke-width="0.22" transform="translate(1506.52 1474.1)">K.BEAVER</text>
<text font-size="13.72" letter-spacing="-0.41" word-spacing="4.53" stroke="#000" stroke-width="0.45" transform="translate(1494.44 1492.2) scale(0.930 1)">PRODUCT SPEC</text>
<text font-size="14" stroke="#000" stroke-width="0.44" transform="translate(1524.27 1521.44) scale(4.288 1)">-</text>
<text font-size="13.72" letter-spacing="-0.17" word-spacing="4.53" stroke="#000" stroke-width="0.45" transform="translate(1495.59 1545.6)">APPLICATION SPEC</text>
<text font-size="14" stroke="#000" stroke-width="0.44" transform="translate(1524.27 1574.24) scale(4.288 1)">-</text>
<text font-size="13.44" letter-spacing="-0.4" stroke="#000" stroke-width="0.47" transform="translate(1495.15 1599) scale(0.913 1)">WEIGHT</text>
<text font-size="14" stroke="#000" stroke-width="0.44" transform="translate(1624.51 1607.64) scale(4.234 1)">-</text>
<text font-size="20.99" letter-spacing="-0.63" word-spacing="6.93" stroke="#000" stroke-width="0.08" transform="translate(1494.3 1649) scale(0.978 1)">CUSTOMER DRAWING</text>
<text font-size="20.44" letter-spacing="0.17" word-spacing="6.74" stroke="#000" stroke-width="0.11" transform="translate(2045.05 1411)">TE Connectivity</text>
<text font-size="12.62" letter-spacing="-0.38" stroke="#000" stroke-width="0.51" transform="translate(1748.58 1454.8) scale(0.926 1)">NAME</text>
<text font-size="20.99" letter-spacing="0.22" word-spacing="6.93" stroke="#000" stroke-width="0.08" transform="translate(1865.04 1482.3)">PLUG ASSEMBLY, SHELL SIZE 17,</text>
<text font-size="20.99" letter-spacing="0.25" word-spacing="6.93" stroke="#000" stroke-width="0.08" transform="translate(1945.62 1512.3)">REVERSE SEX, CPC</text>
<text font-size="13.44" letter-spacing="0.97" stroke="#000" stroke-width="0.47" transform="translate(1754.91 1565)">SIZE</text>
<text font-size="13.44" letter-spacing="-0.4" word-spacing="4.44" stroke="#000" stroke-width="0.47" transform="translate(1813.28 1565) scale(0.915 1)">CAGE CODE</text>
<text font-size="13.44" letter-spacing="-0.4" word-spacing="4.44" stroke="#000" stroke-width="0.47" transform="translate(1902.34 1565) scale(0.895 1)">DRAWING NO</text>
<text font-size="13.44" letter-spacing="-0.36" word-spacing="4.44" stroke="#000" stroke-width="0.47" transform="translate(2254.35 1565)">RESTRICTED TO</text>
<text font-size="39.92" letter-spacing="1.08" transform="translate(1749.41 1616.5)" stroke="#fff" stroke-width="0.7">A3</text>
<text font-size="26.42" letter-spacing="1.13" transform="translate(1805.84 1611.61)">00779</text>
<text font-size="26.29" letter-spacing="0.94" transform="translate(1950.38 1610.02)">206044</text>
<text font-size="14" stroke="#000" stroke-width="0.44" transform="translate(2293 1602.84) scale(5.564 1)">-</text>
<text font-size="12.62" letter-spacing="0.02" stroke="#000" stroke-width="0.51" transform="translate(1996.08 1637.9)">SCALE</text>
<text font-size="24.17" letter-spacing="0.75" transform="translate(2053.72 1655.95)">2:1</text>
<text font-size="12.62" letter-spacing="-0.29" stroke="#000" stroke-width="0.51" transform="translate(2117.68 1637.9)">SHEET</text>
<text font-size="25.1" transform="translate(2191.24 1656.3) scale(0.749 1)">1</text>
<text font-size="12.62" letter-spacing="-0.38" stroke="#000" stroke-width="0.51" transform="translate(2219.09 1650.2) scale(0.883 1)">OF</text>
<text font-size="25.1" transform="translate(2243.24 1656.3) scale(0.749 1)">1</text>
<text font-size="12.62" letter-spacing="-0.38" stroke="#000" stroke-width="0.51" transform="translate(2286.66 1637.9) scale(0.989 1)">REV</text>
<text font-size="25.1" letter-spacing="-0.75" transform="translate(2316.85 1656.3) scale(0.931 1)">G1</text>
</g>
</svg>
</body></html>
